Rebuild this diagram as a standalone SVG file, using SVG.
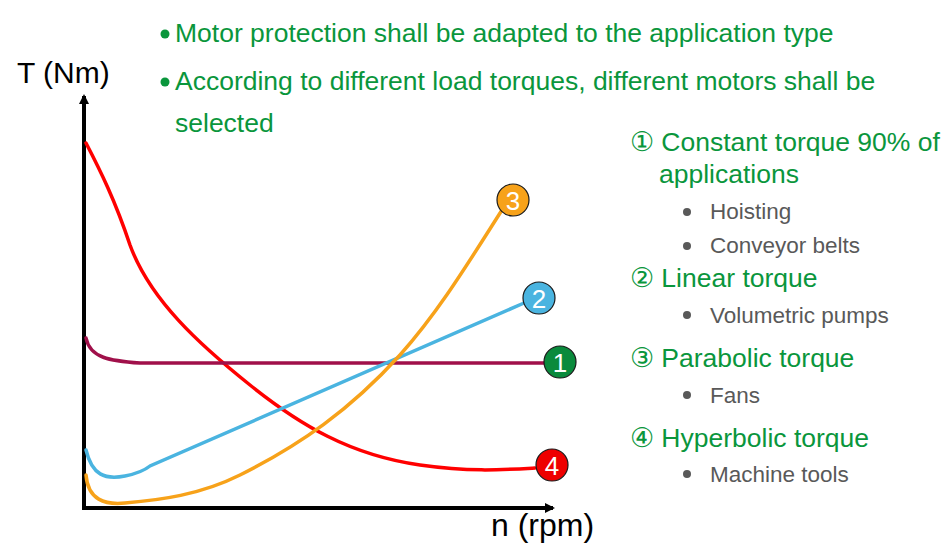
<svg xmlns="http://www.w3.org/2000/svg" width="951" height="547" viewBox="0 0 951 547">
<defs>
<style>
.g{fill:#0a963c;font-family:"Liberation Sans",Arial,sans-serif;font-size:26.5px}
.s{fill:#595959;font-family:"Liberation Sans",Arial,sans-serif;font-size:22.5px}
.ax{fill:#000;font-family:"Liberation Sans",Arial,sans-serif;font-size:30px}
.c{fill:none;stroke-width:3.5;stroke-linecap:round}
.n{stroke:#1a1a1a;stroke-width:1.2}
.nt{fill:#fff;font-family:"Liberation Sans",Arial,sans-serif;font-size:26px;text-anchor:middle}
</style>
<marker id="ar" markerWidth="10" markerHeight="10" refX="8" refY="5" orient="auto" markerUnits="userSpaceOnUse"><path d="M0,0 L10,5 L0,10 Z" fill="#000"/></marker>
</defs>
<rect width="951" height="547" fill="#fff"/>
<g id="texts">
<circle cx="165" cy="34" r="4.5" fill="#0a963c"/><text class="g" x="175" y="42">Motor protection shall be adapted to the application type</text>
<circle cx="165" cy="82" r="4.5" fill="#0a963c"/><text class="g" x="175" y="90">According to different load torques, different motors shall be</text>
<text class="g" x="175" y="132">selected</text>
<text class="g" x="630" y="151">① Constant torque 90% of</text>
<text class="g" x="659" y="183">applications</text>
<g fill="#595959"><circle cx="687" cy="212" r="4"/><circle cx="687" cy="246" r="4"/><circle cx="687" cy="315" r="4"/><circle cx="687" cy="395" r="4"/><circle cx="687" cy="474" r="4"/></g>
<text class="s" x="710" y="219">Hoisting</text>
<text class="s" x="710" y="253">Conveyor belts</text>
<text class="g" x="630" y="287">② Linear torque</text>
<text class="s" x="710" y="323">Volumetric pumps</text>
<text class="g" x="630" y="367">③ Parabolic torque</text>
<text class="s" x="710" y="403">Fans</text>
<text class="g" x="630" y="447">④ Hyperbolic torque</text>
<text class="s" x="710" y="482">Machine tools</text>
<text class="ax" x="17" y="83">T (Nm)</text>
<text class="ax" x="491" y="536" style="font-size:32px">n (rpm)</text>
</g>
<g id="axes" stroke="#000" stroke-width="4" fill="none">
<line x1="84" y1="508" x2="84" y2="96" marker-end="url(#ar)"/>
<line x1="82" y1="508" x2="553" y2="508" marker-end="url(#ar)"/>
</g>
<g id="connectors">
<path class="c" stroke="#ff0000" d="M86,143 C100,170 115,200 130,245 C150,300 200,345 250,385 C300,425 350,455 420,465 C470,472 500,470 535,468"/>
<path class="c" stroke="#a0104a" d="M86,338 C90,358 110,361 140,363 L545,363"/>
<path class="c" stroke="#4ab4e0" d="M86,450 C92,475 105,480 125,476 C135,474 145,470 150,466 L524,303"/>
<path class="c" stroke="#f7a21a" d="M86,475 C88,500 105,505 125,503 C160,500 200,495 240,475 C300,445 350,410 400,355 C440,310 470,260 502,210"/>
</g>
<g id="n3"><circle class="n" cx="513" cy="200" r="16" fill="#f7a21a"/><text class="nt" x="513" y="210">3</text></g>
<g id="n2"><circle class="n" cx="539" cy="298" r="16" fill="#4ab4e0"/><text class="nt" x="539" y="308">2</text></g>
<g id="n1"><circle class="n" cx="560" cy="362" r="16" fill="#0a8a3c"/><text class="nt" x="560" y="372">1</text></g>
<g id="n4"><circle class="n" cx="552" cy="465" r="16" fill="#ee0000"/><text class="nt" x="552" y="475">4</text></g>
</svg>
